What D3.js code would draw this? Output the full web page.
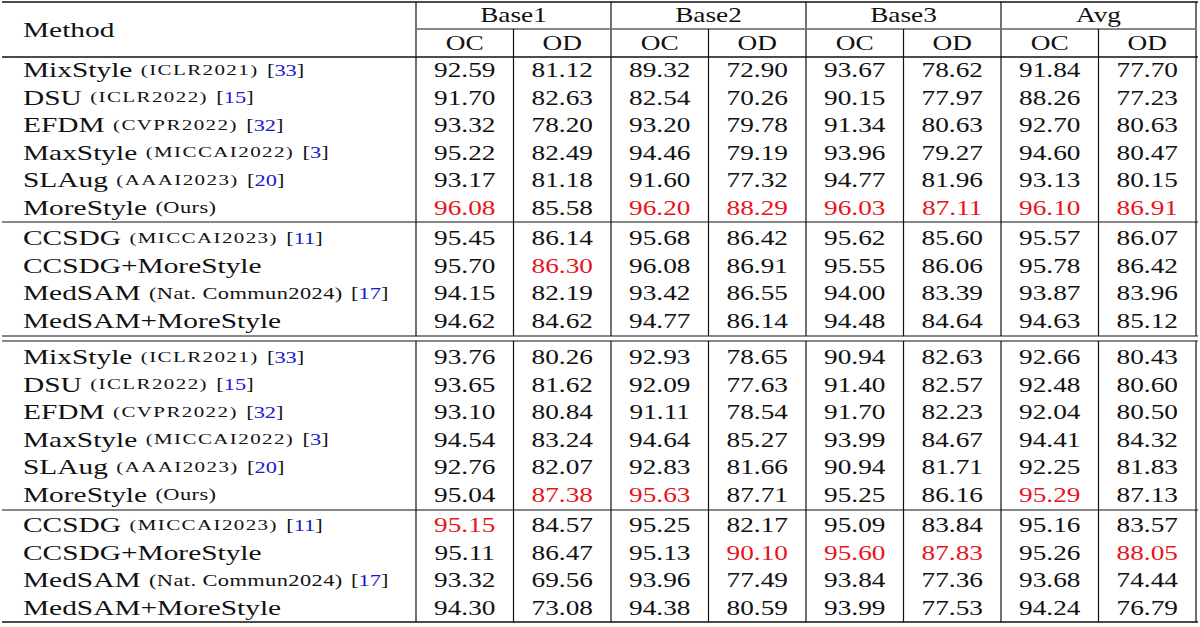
<!DOCTYPE html>
<html>
<head>
<meta charset="utf-8">
<script src="https://cdn.jsdelivr.net/npm/d3@7"></script>
<style>
  body { margin: 0; background: #fff; }
  text { font-family: "Liberation Serif", serif; fill: #111; }
</style>
</head>
<body>
<svg id="chart" width="1200" height="627"></svg>
<script>
// table data
const groups = ["Base1", "Base2", "Base3", "Avg"];
const subCols = ["OC", "OD"];

// method name, venue (small caps), citation
const methods = [
  ["MixStyle", "(ICLR2021)", "33"],
  ["DSU", "(ICLR2022)", "15"],
  ["EFDM", "(CVPR2022)", "32"],
  ["MaxStyle", "(MICCAI2022)", "3"],
  ["SLAug", "(AAAI2023)", "20"],
  ["MoreStyle", "(Ours)", ""],
  ["CCSDG", "(MICCAI2023)", "11"],
  ["CCSDG+MoreStyle", "", ""],
  ["MedSAM", "(Nat. Commun2024)", "17"],
  ["MedSAM+MoreStyle", "", ""]
];

const valuesTop = [
  [92.59, 81.12, 89.32, 72.90, 93.67, 78.62, 91.84, 77.70],
  [91.70, 82.63, 82.54, 70.26, 90.15, 77.97, 88.26, 77.23],
  [93.32, 78.20, 93.20, 79.78, 91.34, 80.63, 92.70, 80.63],
  [95.22, 82.49, 94.46, 79.19, 93.96, 79.27, 94.60, 80.47],
  [93.17, 81.18, 91.60, 77.32, 94.77, 81.96, 93.13, 80.15],
  [96.08, 85.58, 96.20, 88.29, 96.03, 87.11, 96.10, 86.91],
  [95.45, 86.14, 95.68, 86.42, 95.62, 85.60, 95.57, 86.07],
  [95.70, 86.30, 96.08, 86.91, 95.55, 86.06, 95.78, 86.42],
  [94.15, 82.19, 93.42, 86.55, 94.00, 83.39, 93.87, 83.96],
  [94.62, 84.62, 94.77, 86.14, 94.48, 84.64, 94.63, 85.12]
];
const valuesBottom = [
  [93.76, 80.26, 92.93, 78.65, 90.94, 82.63, 92.66, 80.43],
  [93.65, 81.62, 92.09, 77.63, 91.40, 82.57, 92.48, 80.60],
  [93.10, 80.84, 91.11, 78.54, 91.70, 82.23, 92.04, 80.50],
  [94.54, 83.24, 94.64, 85.27, 93.99, 84.67, 94.41, 84.32],
  [92.76, 82.07, 92.83, 81.66, 90.94, 81.71, 92.25, 81.83],
  [95.04, 87.38, 95.63, 87.71, 95.25, 86.16, 95.29, 87.13],
  [95.15, 84.57, 95.25, 82.17, 95.09, 83.84, 95.16, 83.57],
  [95.11, 86.47, 95.13, 90.10, 95.60, 87.83, 95.26, 88.05],
  [93.32, 69.56, 93.96, 77.49, 93.84, 77.36, 93.68, 74.44],
  [94.30, 73.08, 94.38, 80.59, 93.99, 77.53, 94.24, 76.79]
];
// highlighted (red) cells: [row, col]
const redTop = [[5,0],[5,2],[5,3],[5,4],[5,5],[5,6],[5,7],[7,1]];
const redBottom = [[5,1],[5,2],[5,6],[6,0],[7,3],[7,4],[7,5],[7,7]];

const svg = d3.select("#chart");
const SX = 1.3; // horizontal stretch of the typeset table
const fs = 21;

const x = d3.scaleLinear().domain([0, 8]).range([416, 1196]);
const colW = x(1) - x(0);
const rowH = 27.5;

// row centers: two blocks, each with 6 + 4 rows
function rowY(block, i) {
  const start = block === 0 ? 70 : 357;
  return start + i * rowH + (i >= 6 ? 3 : 0);
}

function txt(xp, yp, anchor, sx) {
  return svg.append("text")
    .attr("text-anchor", anchor)
    .attr("dominant-baseline", "central")
    .attr("font-size", fs)
    .attr("transform", `translate(${xp},${yp}) scale(${sx || SX},1)`);
}

// lines
const line = (x1, x2, y1, y2, w) => svg.append("line")
  .attr("x1", x1).attr("x2", x2).attr("y1", y1).attr("y2", y2)
  .attr("stroke", "#111").attr("stroke-width", w || 1.2);

line(2, 1198, 2, 2, 1.4);
groups.forEach((g, i) => line(x(2 * i) + 1, x(2 * i + 2) - 1, 29, 29));
line(2, 1198, 57, 57, 1.6);
line(2, 1198, 222, 222);
line(2, 1198, 336, 336);
line(2, 1198, 341, 341);
line(2, 1198, 510, 510);
line(2, 1198, 622, 622, 1.4);

// vertical lines
d3.range(0, 9).forEach(k => {
  const top = (k % 2 === 1) ? 29 : 2;
  line(x(k), x(k), top, 336);
  line(x(k), x(k), 341, 622);
});

// header
txt(23, 30, "start", 1.4).text("Method");
groups.forEach((g, i) => txt((x(2 * i) + x(2 * i + 2)) / 2, 15, "middle").text(g));
d3.range(8).forEach(k => txt(x(k) + colW / 2, 43, "middle").text(subCols[k % 2]));

// method labels
[0, 1].forEach(block => {
  methods.forEach((m, i) => {
    const t = txt(23, rowY(block, i), "start", 1.4);
    t.append("tspan").text(m[0]);
    if (m[1]) {
      const sc = m[1].startsWith("(Nat") || m[1] === "(Ours)";
      t.append("tspan").attr("font-size", sc ? 16 : 15).attr("dx", 6)
        .attr("letter-spacing", sc ? 0.3 : 1).text(m[1]);
    }
    if (m[2]) {
      t.append("tspan").attr("font-size", 16).attr("dx", 6).text("[");
      t.append("tspan").attr("font-size", 16).style("fill", "#1a1acc").text(m[2]);
      t.append("tspan").attr("font-size", 16).text("]");
    }
  });
});

// values
[[valuesTop, redTop], [valuesBottom, redBottom]].forEach(([vals, reds], block) => {
  const redSet = new Set(reds.map(d => d.join(",")));
  vals.forEach((row, i) => {
    row.forEach((v, k) => {
      txt(x(k) + colW / 2, rowY(block, i), "middle")
        .style("fill", redSet.has(i + "," + k) ? "#e8141b" : "#111")
        .text(v.toFixed(2));
    });
  });
});
</script>
</body>
</html>
